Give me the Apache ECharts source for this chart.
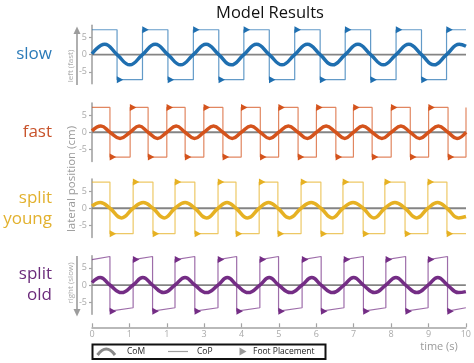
<!DOCTYPE html>
<html><head><meta charset="utf-8">
<script src="https://cdn.jsdelivr.net/npm/echarts@6/dist/echarts.min.js"></script>
<style>html,body{margin:0;padding:0;background:#fff}#c{width:474px;height:363px}</style>
</head><body><div id="c"></div>
<script>
// ---------- data ----------
const panelNames = ['slow', 'fast', 'split\nyoung', 'split\nold'];
const xTickLabels = ['0', '1', '1', '3', '4', '5', '6', '7', '8', '9', '10'];
const yTickValues = [-5, 0, 5];
const legendNames = ['CoM', 'CoP', 'Foot Placement'];

// foot placement times (s); each panel starts on the left (positive) side
const slowSteps  = [0.67, 1.35, 2.03, 2.71, 3.39, 4.06, 4.74, 5.42, 6.10, 6.77, 7.45, 8.13, 8.81, 9.48];
const fastSteps  = [0.48, 1.02, 1.50, 2.00, 2.49, 2.99, 3.50, 3.99, 4.50, 4.99, 5.51, 6.00, 6.52, 6.99, 7.49, 8.00, 8.51, 9.00, 9.52, 10.0];
const youngSteps = [0.48, 1.10, 1.63, 2.22, 2.75, 3.37, 3.85, 4.47, 4.97, 5.59, 6.12, 6.71, 7.25, 7.83, 8.37, 8.98, 9.49];
const oldSteps   = [0.48, 1.10, 1.62, 2.22, 2.75, 3.37, 3.87, 4.49, 4.99, 5.62, 6.13, 6.74, 7.26, 7.86, 8.39, 8.99, 9.51];

// CoP level (cm): [left start, left end, right start, right end]
const slowCoP  = [7.2, 7.2, -7.3, -7.3];
const fastCoP  = [7.2, 7.2, -7.2, -7.2];
const youngCoP = [7.6, 7.6, -7.4, -7.4];
const oldCoP   = [7.4, 8.3, -7.6, -6.6];

// CoM lateral position (cm) read at extrema / crossings: [t, y]
const slowCoM = [[0,0.2],[0.34,3.0],[0.67,0],[1.01,-3.0],[1.35,0],[1.69,3.0],[2.03,0],[2.37,-3.0],[2.71,0],[3.05,3.0],[3.39,0],[3.72,-3.0],[4.06,0],[4.40,3.0],[4.74,0],[5.08,-3.0],[5.42,0],[5.76,3.0],[6.10,0],[6.43,-3.0],[6.77,0],[7.11,3.0],[7.45,0],[7.79,-3.0],[8.13,0],[8.47,3.0],[8.81,0],[9.14,-3.0],[9.48,0],[9.82,3.0],[10,2.4]];
const fastCoM = [[0,0.4],[0.24,1.8],[0.48,0],[0.75,-1.8],[1.02,0],[1.26,1.8],[1.50,0],[1.75,-1.8],[2.00,0],[2.25,1.8],[2.49,0],[2.74,-1.8],[2.99,0],[3.25,1.8],[3.50,0],[3.75,-1.8],[3.99,0],[4.25,1.8],[4.50,0],[4.75,-1.8],[4.99,0],[5.25,1.8],[5.51,0],[5.76,-1.8],[6.00,0],[6.26,1.8],[6.52,0],[6.76,-1.8],[6.99,0],[7.24,1.8],[7.49,0],[7.75,-1.8],[8.00,0],[8.26,1.8],[8.51,0],[8.76,-1.8],[9.00,0],[9.26,1.8],[9.52,0],[9.76,-1.8],[10,0]];
const youngCoM = [[0,0.6],[0.22,1.7],[0.48,0],[0.79,-2.8],[1.10,0],[1.37,1.7],[1.63,0],[1.93,-2.8],[2.22,0],[2.49,1.7],[2.75,0],[3.06,-2.8],[3.37,0],[3.61,1.7],[3.85,0],[4.16,-2.8],[4.47,0],[4.72,1.7],[4.97,0],[5.28,-2.8],[5.59,0],[5.86,1.7],[6.12,0],[6.42,-2.8],[6.71,0],[6.98,1.7],[7.25,0],[7.54,-2.8],[7.83,0],[8.10,1.7],[8.37,0],[8.68,-2.8],[8.98,0],[9.24,1.7],[9.49,0],[9.80,-2.8],[10,-2.4]];
const oldCoM = [[0,0.7],[0.22,2.2],[0.48,0],[0.79,-2.2],[1.10,0],[1.36,2.2],[1.62,0],[1.92,-2.2],[2.22,0],[2.49,2.2],[2.75,0],[3.06,-2.2],[3.37,0],[3.62,2.2],[3.87,0],[4.18,-2.2],[4.49,0],[4.74,2.2],[4.99,0],[5.31,-2.2],[5.62,0],[5.88,2.2],[6.13,0],[6.44,-2.2],[6.74,0],[7.00,2.2],[7.26,0],[7.56,-2.2],[7.86,0],[8.13,2.2],[8.39,0],[8.69,-2.2],[8.99,0],[9.25,2.2],[9.51,0],[9.80,-2.2],[10,-1.9]];

// ---------- style ----------
const panelColors = ['#1f6fb0', '#d4531c', '#e6b123', '#742d85'];
const labelColors = ['#2a7ab8', '#c8532b', '#e2b12e', '#6b2b7b'];
const gridTops = [25.3, 103, 179, 255.8];
const GRID_H = 58.5;
const FONT = 'Open Sans';

const panels = [
  {steps: slowSteps, cop: slowCoP, com: slowCoM},
  {steps: fastSteps, cop: fastCoP, com: fastCoM},
  {steps: youngSteps, cop: youngCoP, com: youngCoM},
  {steps: oldSteps, cop: oldCoP, com: oldCoM}
];

function copLine(steps, lv) {
  const b = [0].concat(steps, [10]);
  const pts = [];
  for (let i = 0; i < b.length - 1; i++) {
    const left = i % 2 === 0;
    pts.push([b[i], left ? lv[0] : lv[2]]);
    pts.push([b[i + 1], left ? lv[1] : lv[3]]);
  }
  return pts;
}
function feet(steps, lv) {
  return steps.filter(t => t < 10).map((t, i) => [t, i % 2 === 0 ? lv[2] : lv[0]]);
}

const grid = [], xAxis = [], yAxis = [], series = [];
panels.forEach((p, i) => {
  grid.push({left: 92, width: 374, top: gridTops[i], height: GRID_H});
  const bottom = i === 3;
  xAxis.push({
    gridIndex: i, type: 'value', min: 0, max: 10, interval: 1,
    show: bottom, position: 'bottom', offset: 13,
    axisLine: {show: bottom, onZero: false, lineStyle: {color: '#a3a3a3', width: 1.5}},
    axisTick: {show: bottom, inside: true, length: 4, lineStyle: {color: '#a3a3a3', width: 1.2}},
    axisLabel: {show: bottom, color: '#aaa', fontSize: 9, fontFamily: FONT, margin: 3,
      formatter: v => xTickLabels[Math.round(v)]},
    splitLine: {show: false},
    name: bottom ? 'time (s)' : '', nameLocation: 'end', nameGap: -8,
    nameTextStyle: {color: '#9a9a9a', fontSize: 11, fontFamily: FONT, align: 'right', verticalAlign: 'top', padding: [14, 0, 0, 0]}
  });
  yAxis.push({
    gridIndex: i, type: 'value', min: -8.5, max: 8.5,
    axisLine: {show: true, onZero: false, lineStyle: {color: '#a3a3a3', width: 1.6}},
    axisTick: {show: true, customValues: yTickValues, length: 3, lineStyle: {color: '#a3a3a3', width: 1.2}},
    axisLabel: {show: true, customValues: yTickValues, color: '#aaa', fontSize: 9, fontFamily: FONT, margin: 5},
    splitLine: {show: false},
    name: panelNames[i], nameLocation: 'middle', nameRotate: 0, nameGap: 40,
    nameTextStyle: {color: labelColors[i], fontSize: 17, fontFamily: FONT, lineHeight: 21, align: 'right', verticalAlign: 'middle'}
  });
  series.push({
    type: 'line', xAxisIndex: i, yAxisIndex: i, data: [[0, 0], [10, 0]], symbol: 'none', silent: true, z: 1,
    lineStyle: {color: '#848484', width: 1.8}
  });
  series.push({
    name: 'CoP', type: 'line', xAxisIndex: i, yAxisIndex: i, data: copLine(p.steps, p.cop), symbol: 'none', z: 2,
    lineStyle: {color: panelColors[i], width: 1.2, opacity: 0.7}
  });
  series.push({
    name: 'CoM', type: 'line', xAxisIndex: i, yAxisIndex: i, data: p.com, symbol: 'none', z: 3, smooth: 0.45,
    lineStyle: {color: panelColors[i], width: 3.5}
  });
  series.push({
    name: 'Foot Placement', type: 'scatter', xAxisIndex: i, yAxisIndex: i, data: feet(p.steps, p.cop), z: 4,
    symbol: 'triangle', symbolRotate: -90, symbolSize: [7, 6.5], symbolOffset: [3, 0],
    itemStyle: {color: panelColors[i], opacity: 1}
  });
});

const gray = '#9c9c9c';
const graphic = [
  // left (fast) arrow
  {type: 'line', shape: {x1: 77, y1: 85, x2: 77, y2: 32}, style: {stroke: gray, lineWidth: 1.6}},
  {type: 'polygon', shape: {points: [[77, 26.5], [73.5, 34], [80.5, 34]]}, style: {fill: gray}},
  {type: 'text', x: 71, y: 66, rotation: Math.PI / 2,
    style: {text: 'left (fast)', fill: '#aaa', font: '8px "Open Sans"', align: 'center', verticalAlign: 'middle'}},
  // right (slow) arrow
  {type: 'line', shape: {x1: 77, y1: 256, x2: 77, y2: 310}, style: {stroke: gray, lineWidth: 1.6}},
  {type: 'polygon', shape: {points: [[77, 316.5], [73.5, 309], [80.5, 309]]}, style: {fill: gray}},
  {type: 'text', x: 71, y: 283, rotation: Math.PI / 2,
    style: {text: 'right (slow)', fill: '#aaa', font: '8px "Open Sans"', align: 'center', verticalAlign: 'middle'}},
  // y title
  {type: 'text', x: 72, y: 179, rotation: Math.PI / 2,
    style: {text: 'lateral position (cm)', fill: '#9a9a9a', font: '11.5px "Open Sans"', align: 'center', verticalAlign: 'middle'}},
  // legend box
  {type: 'rect', shape: {x: 92.5, y: 344.5, width: 233, height: 14.5}, style: {fill: '#fff', stroke: '#111', lineWidth: 2}},
  {type: 'bezierCurve', shape: {x1: 97.5, y1: 355, x2: 115, y2: 355, cpx1: 106.2, cpy1: 343}, style: {stroke: '#8a8a8a', lineWidth: 3, fill: null}},
  {type: 'text', x: 127, y: 351.5, style: {text: legendNames[0], fill: '#222', font: '8.5px "Open Sans"', align: 'left', verticalAlign: 'middle'}},
  {type: 'line', shape: {x1: 168, y1: 351.5, x2: 188, y2: 351.5}, style: {stroke: '#a0a0a0', lineWidth: 1.2}},
  {type: 'text', x: 197, y: 351.5, style: {text: legendNames[1], fill: '#222', font: '8.5px "Open Sans"', align: 'left', verticalAlign: 'middle'}},
  {type: 'polygon', shape: {points: [[239.5, 347.5], [239.5, 355.5], [246.5, 351.5]]}, style: {fill: '#9a9a9a'}},
  {type: 'text', x: 253, y: 351.5, style: {text: legendNames[2], fill: '#222', font: '8.5px "Open Sans"', align: 'left', verticalAlign: 'middle'}}
];

const chart = echarts.init(document.getElementById('c'), null, {renderer: 'canvas'});
chart.setOption({
  animation: false,
  backgroundColor: '#fff',
  title: {text: 'Model Results', left: 270, top: 5, padding: 0, textAlign: 'center',
    textStyle: {fontSize: 16.5, fontWeight: 'normal', color: '#111', fontFamily: FONT}},
  grid, xAxis, yAxis, series, graphic
});
</script></body></html>
